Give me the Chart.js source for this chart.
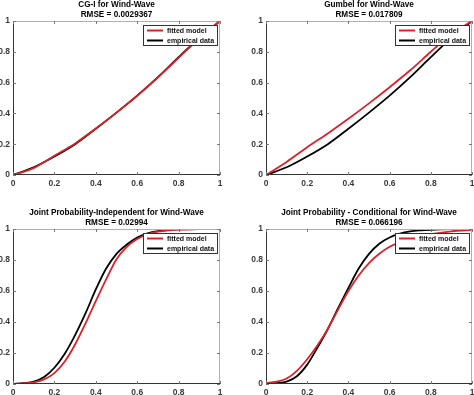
<!DOCTYPE html>
<html>
<head>
<meta charset="utf-8">
<script src="https://cdn.jsdelivr.net/npm/chart.js@4"></script>
<style>
  html,body{margin:0;padding:0;background:#fff;}
  body{width:474px;height:395px;position:relative;overflow:hidden;}
  canvas{position:absolute;}
</style>
</head>
<body>
<canvas id="c1" style="left:0;top:0" width="237" height="198"></canvas>
<canvas id="c2" style="left:237px;top:0" width="237" height="198"></canvas>
<canvas id="c3" style="left:0;top:198px" width="237" height="197"></canvas>
<canvas id="c4" style="left:237px;top:198px" width="237" height="197"></canvas>
<script>
// ---- data ----
const tickLabels = ['0','0.2','0.4','0.6','0.8','1'];
const legendLabels = ['fitted model','empirical data'];

const xTop = [0,0.1,0.2,0.3,0.4,0.5,0.6,0.7,0.8,0.9,1];
const cgFitted  = [0,0.045,0.125,0.205,0.302,0.405,0.515,0.633,0.76,0.888,1];
const cgEmpirical = [0,0.05,0.12,0.2,0.3,0.405,0.515,0.635,0.765,0.89,1];
const gumbelFitted = [0,0.085,0.18,0.27,0.365,0.465,0.57,0.68,0.8,0.915,1];
const gumbelEmpirical = [0,0.05,0.12,0.2,0.3,0.405,0.515,0.635,0.765,0.89,1];

const xBottom = [0,0.05,0.1,0.15,0.2,0.25,0.3,0.35,0.4,0.45,0.5,0.55,0.6,0.65,0.7,0.75,0.8,0.9,1];
const indepFitted    = [0,0.004,0.01,0.03,0.07,0.145,0.255,0.39,0.535,0.675,0.805,0.885,0.935,0.966,0.983,0.992,0.996,1,1];
const indepEmpirical = [0,0.006,0.015,0.045,0.105,0.195,0.315,0.455,0.61,0.745,0.84,0.9,0.945,0.972,0.986,0.993,0.997,1,1];
const condFitted     = [0.005,0.015,0.035,0.085,0.16,0.25,0.355,0.48,0.6,0.7,0.78,0.84,0.885,0.915,0.938,0.955,0.967,0.985,0.995];
const condEmpirical  = [0.003,0.006,0.015,0.05,0.125,0.235,0.355,0.49,0.62,0.745,0.84,0.905,0.945,0.97,0.984,0.991,0.995,0.999,1];

const titles = [
  ['CG-I for Wind-Wave','RMSE = 0.0029367'],
  ['Gumbel for Wind-Wave','RMSE = 0.017809'],
  ['Joint Probability-Independent for Wind-Wave','RMSE = 0.02994'],
  ['Joint Probability - Conditional for Wind-Wave','RMSE = 0.066196']
];

const RED = '#d8232a', BLACK = '#000000';
const FONT = '"Liberation Sans", Arial, Helvetica, sans-serif';

function pts(xs, ys){ return xs.map((x,i)=>({x:x, y:ys[i]})); }

const decor = {
  id:'decor',
  afterDatasetsDraw(chart, args, opts){
    const ctx = chart.ctx, a = chart.chartArea;
    const xs = chart.scales.x, ys = chart.scales.y;
    ctx.save();
    // box
    ctx.lineWidth = 1;
    ctx.strokeStyle = '#b0b0b0';
    ctx.beginPath();
    ctx.moveTo(a.left, a.top+0.5); ctx.lineTo(a.right-0.5, a.top+0.5); ctx.lineTo(a.right-0.5, a.bottom);
    ctx.stroke();
    ctx.strokeStyle = '#333';
    ctx.beginPath();
    ctx.moveTo(a.left+0.5, a.top); ctx.lineTo(a.left+0.5, a.bottom-0.5); ctx.lineTo(a.right, a.bottom-0.5);
    ctx.stroke();
    // inner ticks
    ctx.strokeStyle = '#777';
    const tl = 3;
    ctx.beginPath();
    xs.ticks.forEach(t=>{
      const px = Math.round(xs.getPixelForValue(t.value))+0.5;
      ctx.moveTo(px, a.bottom); ctx.lineTo(px, a.bottom-tl);
      ctx.moveTo(px, a.top); ctx.lineTo(px, a.top+tl);
    });
    ys.ticks.forEach(t=>{
      const py = Math.round(ys.getPixelForValue(t.value))+0.5;
      ctx.moveTo(a.left, py); ctx.lineTo(a.left+tl, py);
      ctx.moveTo(a.right, py); ctx.lineTo(a.right-tl, py);
    });
    ctx.stroke();
    // legend
    const bw = 74, bh = 20;
    const bx = a.right - 3 - bw, by = a.top + 4;
    ctx.fillStyle = '#fff';
    ctx.fillRect(bx, by, bw, bh);
    ctx.strokeStyle = '#333';
    ctx.lineWidth = 1;
    ctx.strokeRect(bx+0.5, by+0.5, bw, bh);
    chart.data.datasets.forEach((ds,i)=>{
      const ry = by + 5.5 + i*10;
      ctx.strokeStyle = ds.borderColor;
      ctx.lineWidth = 2;
      ctx.beginPath(); ctx.moveTo(bx+4, ry); ctx.lineTo(bx+20, ry); ctx.stroke();
      ctx.fillStyle = '#111';
      ctx.font = 'bold 7px ' + FONT;
      ctx.textBaseline = 'middle';
      ctx.textAlign = 'left';
      ctx.fillText(ds.label, bx+24, ry+0.5);
    });
    // title
    const t = opts.title;
    ctx.fillStyle = '#000';
    ctx.font = 'bold 8.2px ' + FONT;
    ctx.textAlign = 'center';
    ctx.textBaseline = 'middle';
    const cx = (a.left + a.right)/2;
    ctx.fillText(t[0], cx, a.top - 16.5);
    ctx.fillText(t[1], cx, a.top - 6.5);
    ctx.restore();
  }
};

function makeChart(id, title, xs, fitted, emp, yAxisW, xAxisH, padTop, padRight){
  new Chart(document.getElementById(id), {
    type:'scatter',
    data:{
      datasets:[
        {label:legendLabels[0], data:pts(xs,fitted), showLine:true, borderColor:RED, backgroundColor:RED,
         borderWidth:1.8, pointRadius:0, cubicInterpolationMode:'monotone'},
        {label:legendLabels[1], data:pts(xs,emp), showLine:true, borderColor:BLACK, backgroundColor:BLACK,
         borderWidth:1.8, pointRadius:0, cubicInterpolationMode:'monotone'}
      ]
    },
    options:{
      responsive:false, animation:false, devicePixelRatio:1,
      layout:{padding:{top:padTop, right:padRight, left:0, bottom:0}},
      plugins:{legend:{display:false}, title:{display:false}, tooltip:{enabled:false}, decor:{title:title}},
      scales:{
        x:{type:'linear', min:0, max:1,
           grid:{display:false, drawTicks:false}, border:{display:false},
           ticks:{stepSize:0.2, autoSkip:false, maxRotation:0, padding:4, color:'#3a3a3a',
                  font:{family:FONT, size:8.5, weight:'bold'},
                  callback:(v,i)=>tickLabels[i]},
           afterFit:(s)=>{ s.height = xAxisH; s.paddingLeft = 0; s.paddingRight = 0; }},
        y:{type:'linear', min:0, max:1,
           grid:{display:false, drawTicks:false}, border:{display:false},
           ticks:{stepSize:0.2, autoSkip:false, padding:3, color:'#3a3a3a',
                  font:{family:FONT, size:8.5, weight:'bold'},
                  callback:(v,i)=>tickLabels[i]},
           afterFit:(s)=>{ s.width = yAxisW; s.paddingTop = 0; s.paddingBottom = 0; }}
      }
    },
    plugins:[decor]
  });
}

makeChart('c1', titles[0], xTop, cgFitted, cgEmpirical, 13, 23, 21, 17);
makeChart('c2', titles[1], xTop, gumbelFitted, gumbelEmpirical, 29, 23, 21, 2);
makeChart('c3', titles[2], xBottom, indepFitted, indepEmpirical, 13, 11, 31, 17);
makeChart('c4', titles[3], xBottom, condFitted, condEmpirical, 29, 11, 31, 2);
</script>
</body>
</html>
